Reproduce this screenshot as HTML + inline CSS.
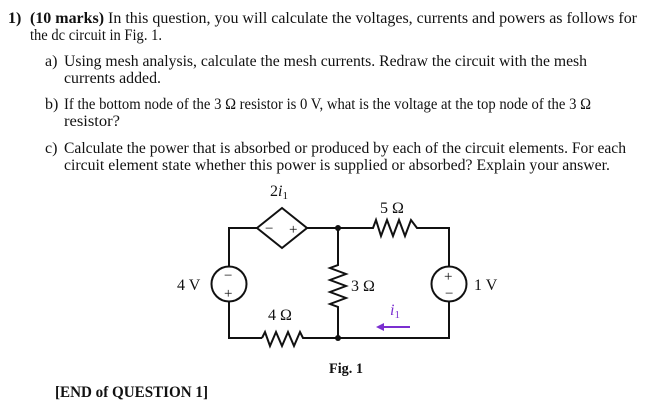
<!DOCTYPE html>
<html><head><meta charset="utf-8"><style>
html,body{margin:0;padding:0;background:#fff;}
svg{display:block;}
text{font-family:"Liberation Serif",serif;fill:#111;}
</style></head><body>
<svg width="663" height="416" viewBox="0 0 663 416" xmlns="http://www.w3.org/2000/svg">
<g font-size="16">
<text x="8" y="23" font-weight="bold">1)</text>
<text x="30" y="23" textLength="607" lengthAdjust="spacingAndGlyphs"><tspan font-weight="bold">(10 marks)</tspan> In this question, you will calculate the voltages, currents and powers as follows for</text>
<text x="30" y="40" textLength="132" lengthAdjust="spacingAndGlyphs">the dc circuit in Fig. 1.</text>
<text x="45" y="66">a)</text>
<text x="64" y="66" textLength="523" lengthAdjust="spacingAndGlyphs">Using mesh analysis, calculate the mesh currents.  Redraw the circuit with the mesh</text>
<text x="64" y="83" textLength="97" lengthAdjust="spacingAndGlyphs">currents added.</text>
<text x="45" y="109">b)</text>
<text x="64" y="109" textLength="527" lengthAdjust="spacingAndGlyphs">If the bottom node of the 3 Ω resistor is 0 V, what is the voltage at the top node of the 3 Ω</text>
<text x="64" y="126" textLength="56" lengthAdjust="spacingAndGlyphs">resistor?</text>
<text x="45" y="153">c)</text>
<text x="64" y="153" textLength="562" lengthAdjust="spacingAndGlyphs">Calculate the power that is absorbed or produced by each of the circuit elements. For each</text>
<text x="64" y="170" textLength="546" lengthAdjust="spacingAndGlyphs">circuit element state whether this power is supplied or absorbed? Explain your answer.</text>
</g>
<g stroke="#111" stroke-width="2" fill="none">
<polyline points="257,228 229,228 229,266"/>
<polyline points="229,302 229,338 262,338"/>
<polyline points="262,338 265,332 270,346 276,332 282,346 288,332 294,346 300,332 303,338 449,338 449,302"/>
<polyline points="307,228 373,228 376,220 381,236 387,220 393,236 399,220 405,236 411,220 417,228 449,228 449,266"/>
<polyline points="338,228 338,265 330,268 346,274 330,280 346,286 330,292 346,298 330,304 338,307 338,338"/>
<polygon points="257,228 282,208 307,228 282,248" fill="#fff"/>
<circle cx="229" cy="284" r="17.5" fill="#fff"/>
<circle cx="449" cy="284" r="17.5" fill="#fff"/>
</g>
<circle cx="338" cy="228" r="3" fill="#111"/>
<circle cx="338" cy="338" r="3" fill="#111"/>
<g font-size="15">
<text x="265" y="233">−</text><text x="289" y="234">+</text>
<text x="224" y="280">−</text><text x="224" y="298">+</text>
<text x="444" y="281">+</text><text x="445" y="298">−</text>
</g>
<g font-size="16">
<text x="270" y="196">2<tspan font-style="italic">i</tspan><tspan font-size="11" dy="3">1</tspan></text>
<text x="380" y="213">5 Ω</text>
<text x="177" y="290">4 V</text>
<text x="351" y="291">3 Ω</text>
<text x="474" y="290">1 V</text>
<text x="268" y="320">4 Ω</text>
<text x="390" y="315" font-style="italic" style="fill:#7b2fd0">i<tspan font-size="11" dy="3" font-style="normal" style="fill:#7b2fd0">1</tspan></text>
<text x="329" y="373" font-weight="bold" font-size="15" textLength="34" lengthAdjust="spacingAndGlyphs">Fig. 1</text>
<text x="55" y="397" font-weight="bold" font-size="16" textLength="153" lengthAdjust="spacingAndGlyphs">[END of QUESTION 1]</text>
</g>
<line x1="410" y1="327" x2="382" y2="327" stroke="#7b2fd0" stroke-width="2"/>
<polygon points="376,327 384,323 384,331" fill="#7b2fd0"/>
</svg>
</body></html>
